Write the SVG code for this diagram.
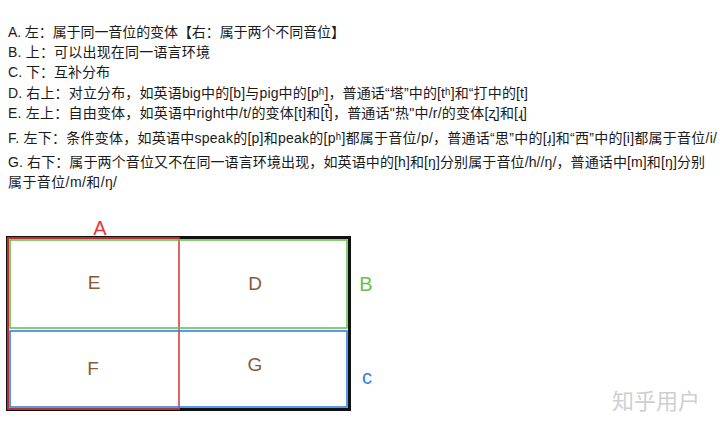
<svg xmlns="http://www.w3.org/2000/svg" width="720" height="427" viewBox="0 0 720 427">
<style>
.t{font-family:"Liberation Sans","Noto Sans CJK SC",sans-serif;font-size:14px;fill:#1a1a1a}
.h{font-family:"Liberation Sans","Noto Sans CJK SC",sans-serif;font-size:19px;fill:#8a5a32;text-anchor:middle}
.lbl{font-family:"Liberation Sans","Noto Sans CJK SC",sans-serif;font-size:20px;text-anchor:middle}
.wm{font-family:"Noto Sans CJK SC",sans-serif;font-size:22px;fill:#cfcfcf}
</style>
<rect width="720" height="427" fill="#ffffff"/>
<g id="notes">
<text class="t" x="8" y="37" textLength="337" lengthAdjust="spacing">A. 左：属于同一音位的变体【右：属于两个不同音位】</text>
<text class="t" x="8" y="57" textLength="202" lengthAdjust="spacing">B. 上：可以出现在同一语言环境</text>
<text class="t" x="8" y="77" textLength="102" lengthAdjust="spacing">C. 下：互补分布</text>
<text class="t" x="8" y="98" textLength="520" lengthAdjust="spacing">D. 右上：对立分布，如英语big中的[b]与pig中的[pʰ]，普通话“塔”中的[tʰ]和“打中的[t]</text>
<text class="t" x="8" y="118" textLength="519" lengthAdjust="spacing">E. 左上：自由变体，如英语中right中/t/的变体[t]和[t̚]，普通话"热"中/r/的变体[ʐ]和[ɻ]</text>
<text class="t" x="8" y="143" textLength="709" lengthAdjust="spacing">F. 左下：条件变体，如英语中speak的[p]和peak的[pʰ]都属于音位/p/，普通话“思”中的[ɹ̩]和“西”中的[i]都属于音位/i/</text>
<text class="t" x="8" y="167" textLength="697" lengthAdjust="spacing">G. 右下：属于两个音位又不在同一语言环境出现，如英语中的[h]和[ŋ]分别属于音位/h//ŋ/，普通话中[m]和[ŋ]分别</text>
<text class="t" x="8" y="187" textLength="109" lengthAdjust="spacing">属于音位/m/和/ŋ/</text>
</g>
<g id="frame">
<rect x="7.5" y="237.5" width="342" height="172" fill="none" stroke="#111111" stroke-width="3"/>
</g>
<g id="A">
<rect x="8" y="238" width="171" height="171" fill="none" stroke="#e23a3a" stroke-width="1.6"/>
<text class="lbl" x="100" y="235" fill="#e23a3a">A</text>
</g>
<g id="B">
<rect x="10" y="240" width="337" height="88" fill="none" stroke="#6cbf4c" stroke-width="1.6"/>
<text class="lbl" x="366" y="291" fill="#6cbf4c">B</text>
</g>
<g id="C">
<rect x="10" y="331" width="337" height="76" fill="none" stroke="#2f80e8" stroke-width="1.6"/>
<text class="lbl" x="367" y="384" fill="#2f80e8">c</text>
</g>
<g id="E"><text class="h" x="94" y="289">E</text></g>
<g id="D"><text class="h" x="255" y="290">D</text></g>
<g id="F"><text class="h" x="93" y="375">F</text></g>
<g id="G"><text class="h" x="255" y="371">G</text></g>
<g id="watermark"><text class="wm" x="612" y="409">知乎用户</text></g>
</svg>
